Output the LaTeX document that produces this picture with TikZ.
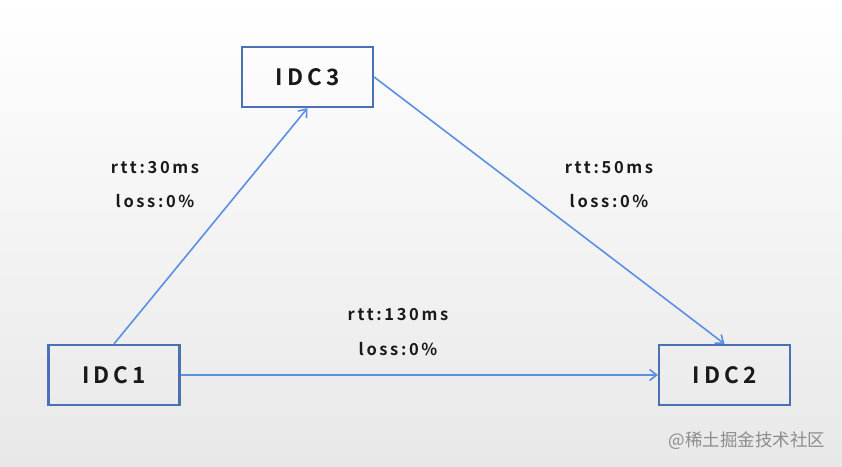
\documentclass[tikz,border=0pt]{standalone}
\usepackage{fontspec}
\setmainfont{Carlito}
\newfontfamily\cjk{Noto Sans CJK SC}
\newfontfamily\boxfont[LetterSpace=18,Ligatures=NoCommon,BoldFont={Noto Sans CJK SC Bold}]{Noto Sans CJK SC}
\newfontfamily\lblfont[LetterSpace=16,Ligatures=NoCommon,BoldFont={Noto Sans CJK SC Bold}]{Noto Sans CJK SC}
\usetikzlibrary{arrows.meta}
\definecolor{boxblue}{HTML}{4A72B2}
\definecolor{arrblue}{HTML}{5B8FE3}
\definecolor{bgbot}{HTML}{E8E8E8}
\begin{document}
\begin{tikzpicture}[x=1pt,y=-1pt,
  dc/.style={draw=boxblue,line width=2.2pt,minimum width=131pt,minimum height=60pt,inner sep=0pt,
    font=\boxfont\bfseries\fontsize{22.5}{26}\selectfont,text=black!90},
  lbl/.style={font=\lblfont\bfseries\fontsize{16.5}{19}\selectfont,text=black!90,inner sep=0pt},
  conn/.style={draw=arrblue,line width=1.6pt,-{Straight Barb[length=7pt,width=11pt,line width=1.6pt]}}]
\shade[top color=white,bottom color=bgbot] (0,0) rectangle (842,466);
\useasboundingbox (0,0) rectangle (842,466);
\node[dc] (idc3) at (307.5,77) {IDC3};
\node[dc] (idc1) at (114,375) {IDC1};
\node[dc] (idc2) at (724.5,375) {IDC2};
\draw[conn] (idc1.north) -- (idc3.south);
\draw[conn] (idc3.east) -- (idc2.north);
\draw[conn] (idc1.east) -- (idc2.west);
\node[lbl] (l1a) at (155,168) {rtt:30ms};
\node[lbl] (l1b) at (155,201) {loss:0\%};
\node[lbl] (l2a) at (609,168) {rtt:50ms};
\node[lbl] (l2b) at (609,201) {loss:0\%};
\node[lbl] (l3a) at (398,315) {rtt:130ms};
\node[lbl] (l3b) at (398,349) {loss:0\%};
\node[font=\cjk\fontsize{17.5}{20}\selectfont,text=black!45,inner sep=0pt] (wm) at (747,441) {@稀土掘金技术社区};
\end{tikzpicture}
\end{document}
